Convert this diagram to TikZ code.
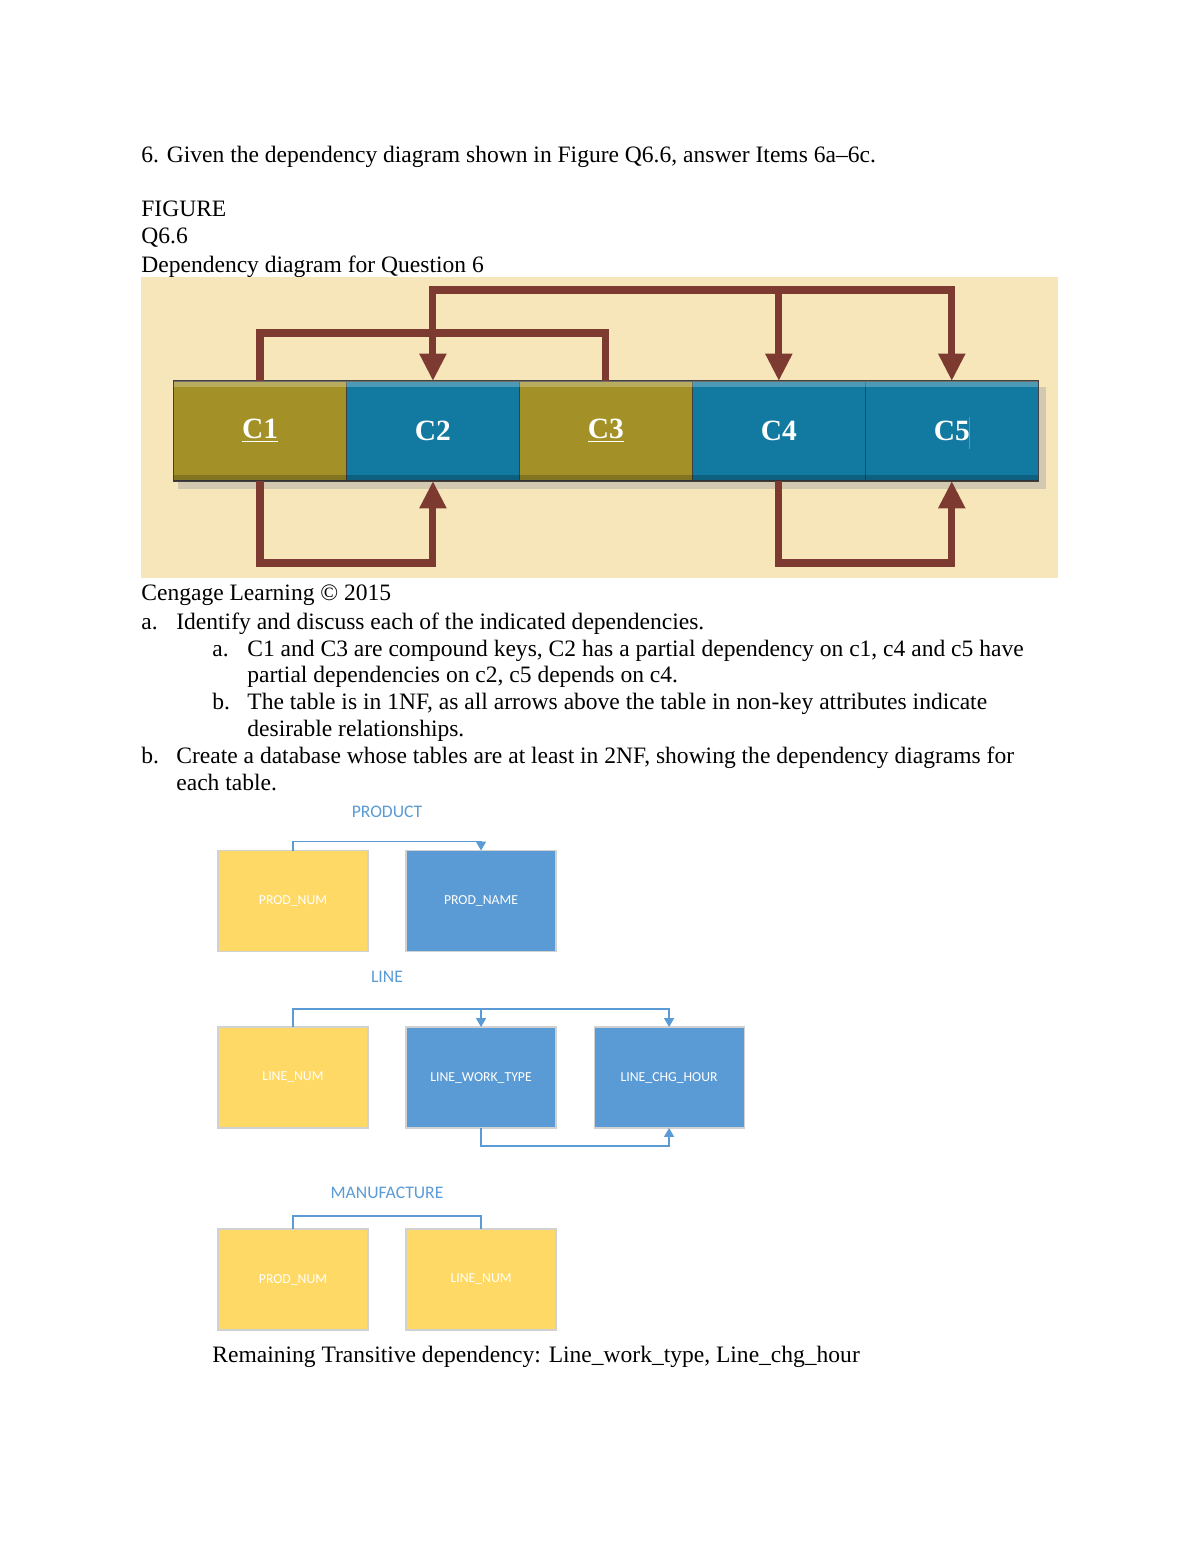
\documentclass[tikz,border=0pt]{standalone}
\usepackage{fontspec}
\setmainfont{Liberation Serif}
\newfontfamily\boxfont{Carlito}
\usetikzlibrary{positioning,arrows.meta}
\definecolor{figbg}{RGB}{247,230,186}
\definecolor{keyolive}{RGB}{163,145,40}
\definecolor{attrblue}{RGB}{18,121,160}
\definecolor{deparrow}{RGB}{125,58,48}
\definecolor{msblue}{RGB}{91,155,213}
\definecolor{msyellow}{RGB}{255,217,102}
\tikzset{
  cell/.style={minimum width=88.2pt,minimum height=51pt,inner sep=0pt,outer sep=0pt,
    draw=black!75,line width=.7pt,text=white,font=\fontsize{15}{18}\selectfont\bfseries},
  keycell/.style={cell,fill=keyolive},
  attrcell/.style={cell,fill=attrblue},
  dep/.style={draw=deparrow,line width=3.6pt,line join=miter},
  deptip/.style={-{Triangle[width=13pt,length=14pt]}},
  deptips/.style={{Triangle[width=13pt,length=14pt]}-{Triangle[width=13pt,length=14pt]}},
  attrbox/.style={minimum width=76.5pt,minimum height=51.5pt,inner sep=0pt,outer sep=0pt,
    draw=black!18,line width=.6pt,text=white,font=\boxfont\fontsize{7}{8}\selectfont},
  pkbox/.style={attrbox,fill=msyellow},
  npbox/.style={attrbox,fill=msblue},
  fd/.style={draw=msblue,line width=.8pt},
  fdtip/.style={-{Triangle[width=5pt,length=4.5pt]}},
  tabname/.style={text=msblue,font=\boxfont\fontsize{9}{11}\selectfont},
  para/.style={anchor=base west,inner sep=0pt,font=\fontsize{12}{14}\selectfont},
}
\begin{document}
\begin{tikzpicture}[x=0.51pt,y=-0.51pt]
  \useasboundingbox[fill=white] (0,0) rectangle (1200,1553);
  % question text
  \node[para] (q) at (141,163) {6. Given the dependency diagram shown in Figure Q6.6, answer Items 6a--6c.};
  \node[para] (fig) at (141,216) {FIGURE};
  \node[para] (fignum) at (141,244) {Q6.6};
  \node[para] (figcap) at (141,272) {Dependency diagram for Question 6};
  % figure Q6.6
  \fill[figbg] (141,277) rectangle (1058,578);
  \fill[black!35,opacity=.45] (178,387) rectangle (1046,489);
  \node[keycell] (c1) at (260,431) {\raisebox{-1pt}{\underline{C1}}};
  \node[attrcell,right=0pt of c1] (c2) {\raisebox{-1pt}{C2}};
  \node[keycell,right=0pt of c2] (c3) {\raisebox{-1pt}{\underline{C3}}};
  \node[attrcell,right=0pt of c3] (c4) {\raisebox{-1pt}{C4}};
  \node[attrcell,right=0pt of c4] (c5) {\raisebox{-1pt}{C5}};
  \fill[white,opacity=.25] (c1.north west) rectangle ([yshift=-3pt]c5.north east);
  \fill[black,opacity=.2] ([yshift=3pt]c1.south west) rectangle (c5.south east);
  \draw[orange!80!red,line width=.5pt] ([xshift=9pt,yshift=7pt]c5.center) -- ([xshift=9pt,yshift=-9pt]c5.center);
  \coordinate (hi) at (434,290);
  \draw[dep] (c1.north) -- ++(0,-48) -| (c3.north);
  \draw[dep,deptips] (c2.north) -- (c2.north |- hi) -| (c5.north);
  \draw[dep,deptip] (c4.north |- hi) -- (c4.north);
  \draw[dep,deptip] (c1.south) -- ++(0,82) -| (c2.south);
  \draw[dep,deptip] (c4.south) -- ++(0,82) -| (c5.south);
  % answers
  \node[para] (src) at (141,600) {Cengage Learning \textcopyright\ 2015};
  \node[para] (ia) at (141,629) {a.};
  \node[para] (ia1) at (176,629) {Identify and discuss each of the indicated dependencies.};
  \node[para] (ja) at (212,656) {a.};
  \node[para] (ja1) at (247,656) {C1 and C3 are compound keys, C2 has a partial dependency on c1, c4 and c5 have};
  \node[para] (ja2) at (247,682) {partial dependencies on c2, c5 depends on c4.};
  \node[para] (jb) at (212,709) {b.};
  \node[para] (jb1) at (247,709) {The table is in 1NF, as all arrows above the table in non-key attributes indicate};
  \node[para] (jb2) at (247,736) {desirable relationships.};
  \node[para] (ib) at (141,763) {b.};
  \node[para] (ib1) at (176,763) {Create a database whose tables are at least in 2NF, showing the dependency diagrams for};
  \node[para] (ib2) at (176,790) {each table.};
  % PRODUCT
  \node[tabname] (tprod) at (387,812) {PRODUCT};
  \node[pkbox] (pnum) at (293,901) {PROD\_NUM};
  \node[npbox,right=19.4pt of pnum] (pname) {PROD\_NAME};
  \draw[fd,fdtip] (pnum.north) -- ++(0,-9) -| (pname.north);
  % LINE
  \node[tabname] (tline) at (387,977) {LINE};
  \node[pkbox] (lnum) at (293,1077.5) {LINE\_NUM};
  \node[npbox,right=19.4pt of lnum] (lwork) {LINE\_WORK\_TYPE};
  \node[npbox,right=19.4pt of lwork] (lchg) {LINE\_CHG\_HOUR};
  \draw[fd,fdtip] (lnum.north) -- ++(0,-18) coordinate (lbar) -| (lchg.north);
  \draw[fd,fdtip] (lwork.north |- lbar) -- (lwork.north);
  \draw[fd,fdtip] (lwork.south) -- ++(0,18) -| (lchg.south);
  % MANUFACTURE
  \node[tabname] (tmanu) at (387,1193) {MANUFACTURE};
  \node[pkbox] (mprod) at (293,1279.5) {PROD\_NUM};
  \node[pkbox,right=19.4pt of mprod] (mline) {LINE\_NUM};
  \draw[fd] (mprod.north) -- ++(0,-13) -| (mline.north);
  \node[para] (rem) at (212,1362) {Remaining Transitive dependency: Line\_work\_type, Line\_chg\_hour};
\end{tikzpicture}
\end{document}
